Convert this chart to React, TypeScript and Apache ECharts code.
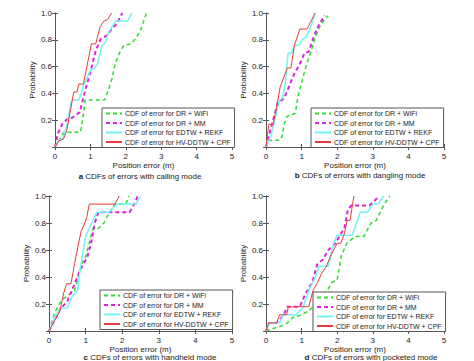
import React, { useEffect, useRef } from "react";
import * as echarts from "echarts";

const seriesNames = [
  "CDF of error for DR + WiFi",
  "CDF of error for DR + MM",
  "CDF of error for EDTW + REKF",
  "CDF of error for HV-DDTW + CPF",
];
const xTicks = [0, 1, 2, 3, 4, 5];
const yTicks = [0, 0.2, 0.4, 0.6, 0.8, 1.0];
const captions = [
  "CDFs of errors with calling mode",
  "CDFs of errors with dangling mode",
  "CDFs of errors with handheld mode",
  "CDFs of errors with pocketed mode",
];
const captionLetters = ["a", "b", "c", "d"];

// calling mode
const callingWifi = [[0,0],[0.25,0.11],[0.72,0.11],[0.78,0.2],[0.85,0.35],[1.4,0.35],[1.5,0.42],[1.6,0.5],[1.7,0.62],[1.85,0.72],[1.95,0.76],[2.15,0.77],[2.28,0.81],[2.4,0.86],[2.48,0.92],[2.58,1.0]];
const callingMM = [[0,0],[0.08,0.1],[0.2,0.17],[0.35,0.21],[0.5,0.22],[0.7,0.26],[0.85,0.42],[1.0,0.56],[1.15,0.72],[1.3,0.81],[1.45,0.83],[1.6,0.88],[1.75,0.92],[1.9,1.0]];
const callingEDTW = [[0,0],[0.1,0.05],[0.22,0.06],[0.35,0.18],[0.47,0.35],[0.68,0.35],[0.82,0.47],[1.0,0.57],[1.12,0.59],[1.2,0.62],[1.32,0.75],[1.42,0.78],[1.5,0.85],[1.62,0.9],[1.72,0.94],[2.05,0.94],[2.17,1.0]];
const callingHV = [[0,0],[0.1,0.045],[0.24,0.06],[0.33,0.12],[0.53,0.41],[0.62,0.41],[0.67,0.47],[0.8,0.47],[1.03,0.77],[1.15,0.77],[1.28,0.9],[1.38,0.94],[1.48,0.95],[1.6,1.0]];

// dangling mode
const danglingWifi = [[0,0],[0.06,0.05],[0.38,0.05],[0.45,0.08],[0.52,0.18],[0.6,0.23],[0.7,0.24],[0.82,0.25],[0.9,0.38],[1.0,0.48],[1.12,0.6],[1.25,0.7],[1.4,0.83],[1.55,0.92],[1.75,0.98]];
const danglingMM = [[0,0],[0.1,0.1],[0.2,0.2],[0.33,0.33],[0.5,0.36],[0.6,0.42],[0.8,0.55],[0.95,0.62],[1.08,0.7],[1.2,0.71],[1.35,0.83],[1.5,0.92],[1.66,0.98]];
const danglingEDTW = [[0,0],[0.1,0.06],[0.2,0.14],[0.3,0.27],[0.38,0.35],[0.47,0.37],[0.55,0.5],[0.62,0.7],[0.72,0.7],[0.8,0.76],[0.92,0.76],[1.02,0.8],[1.12,0.82],[1.22,0.87],[1.38,1.0]];
const danglingHV = [[0,0],[0.08,0.17],[0.2,0.17],[0.3,0.3],[0.4,0.45],[0.5,0.52],[0.6,0.59],[0.7,0.59],[0.8,0.76],[0.95,0.88],[1.15,0.88],[1.38,1.0]];

// handheld mode
const handheldWifi = [[0,0],[0.15,0.13],[0.28,0.2],[0.4,0.24],[0.55,0.27],[0.7,0.3],[0.8,0.4],[0.9,0.5],[1.0,0.55],[1.1,0.65],[1.2,0.76],[1.35,0.76],[1.5,0.8],[1.65,0.88],[1.8,0.94],[2.1,0.94],[2.18,1.0]];
const handheldMM = [[0,0],[0.15,0.08],[0.3,0.16],[0.4,0.19],[0.5,0.22],[0.7,0.35],[0.85,0.45],[0.95,0.5],[1.05,0.55],[1.15,0.65],[1.25,0.8],[1.35,0.88],[2.2,0.88],[2.35,0.95],[2.42,1.0]];
const handheldEDTW = [[0,0],[0.2,0.12],[0.3,0.17],[0.5,0.17],[0.62,0.25],[0.78,0.3],[0.85,0.45],[0.95,0.62],[1.0,0.7],[1.1,0.76],[1.2,0.82],[1.3,0.88],[1.65,0.88],[1.85,0.94],[2.38,0.94],[2.5,1.0]];
const handheldHV = [[0,0],[0.2,0.1],[0.3,0.15],[0.4,0.28],[0.48,0.35],[0.6,0.35],[0.7,0.5],[0.8,0.64],[0.88,0.74],[0.98,0.8],[1.03,0.84],[1.1,0.94],[1.8,0.94],[1.92,1.0]];

// pocketed mode
const pocketedWifi = [[0,0],[0.45,0.04],[0.6,0.06],[0.75,0.1],[1.0,0.12],[1.2,0.15],[1.5,0.22],[1.72,0.3],[1.85,0.36],[2.0,0.38],[2.12,0.56],[2.27,0.65],[2.5,0.7],[2.75,0.7],[2.95,0.8],[3.1,0.82],[3.3,0.93],[3.48,1.0]];
const pocketedMM = [[0,0],[0.1,0.06],[0.3,0.06],[0.5,0.12],[0.6,0.18],[0.95,0.18],[1.1,0.27],[1.3,0.36],[1.45,0.5],[1.6,0.53],[1.75,0.6],[1.95,0.65],[2.1,0.72],[2.2,0.76],[2.3,0.9],[2.4,0.93],[2.9,0.93],[3.0,0.95],[3.18,1.0]];
const pocketedEDTW = [[0,0],[0.1,0.06],[0.38,0.06],[0.48,0.12],[0.85,0.12],[1.05,0.18],[1.2,0.3],[1.35,0.38],[1.5,0.48],[1.75,0.48],[1.9,0.65],[2.0,0.71],[2.42,0.71],[2.65,0.88],[2.85,0.88],[3.0,0.94],[3.15,0.94],[3.3,1.0]];
const pocketedHV = [[0,0],[0.07,0.06],[0.3,0.06],[0.38,0.12],[0.58,0.12],[0.63,0.18],[1.2,0.18],[1.32,0.3],[1.45,0.36],[1.55,0.42],[1.7,0.48],[1.8,0.55],[1.9,0.6],[2.0,0.65],[2.1,0.65],[2.2,0.72],[2.28,0.82],[2.36,0.82],[2.47,1.0]];

const panels = [
  [callingWifi, callingMM, callingEDTW, callingHV],
  [danglingWifi, danglingMM, danglingEDTW, danglingHV],
  [handheldWifi, handheldMM, handheldEDTW, handheldHV],
  [pocketedWifi, pocketedMM, pocketedEDTW, pocketedHV],
];

const FONT = "Liberation Sans, Arial, sans-serif";

export default function App() {
  const ref = useRef<HTMLDivElement>(null);
  useEffect(() => {
    if (!ref.current) return;
    const chart = echarts.init(ref.current, undefined, { renderer: "svg" });

    const grids = [
      { left: 55, top: 13, width: 177, height: 134 },
      { left: 266, top: 13, width: 178, height: 134 },
      { left: 49, top: 196, width: 183, height: 135 },
      { left: 266, top: 196, width: 178, height: 135 },
    ];
    const yNameGaps = [18, 17, 13, 17];
    const legendPos = [
      { left: 102, top: 108 },
      { left: 311, top: 108 },
      { left: 100, top: 290 },
      { left: 313, top: 292 },
    ];
    const captionPos = [
      { x: 140, y: 176 },
      { x: 360, y: 175 },
      { x: 150, y: 357 },
      { x: 371, y: 357 },
    ];
    const styles = [
      { color: "#2ede2e", width: 1.5, type: [4, 3] },
      { color: "#e020e0", width: 2, type: [4, 3] },
      { color: "#6ef4f4", width: 1.5, type: "solid" },
      { color: "#e83a3a", width: 1, type: "solid" },
    ];

    const axisLine = { show: true, lineStyle: { color: "#555", width: 1 } };
    const xAxes: any[] = [];
    const yAxes: any[] = [];
    const series: any[] = [];
    grids.forEach((_, i) => {
      xAxes.push({
        type: "value",
        gridIndex: i,
        min: xTicks[0],
        max: xTicks[xTicks.length - 1],
        interval: 1,
        position: "bottom",
        axisLine,
        axisTick: { show: true, inside: true, length: 3, lineStyle: { color: "#555" } },
        splitLine: { show: false },
        axisLabel: { fontSize: 8, color: "#222", fontFamily: FONT, margin: 5 },
        name: "Position error (m)",
        nameLocation: "middle",
        nameGap: 14,
        nameTextStyle: { fontSize: 8, color: "#222", fontFamily: FONT },
      });
      xAxes.push({
        type: "value",
        gridIndex: i,
        min: xTicks[0],
        max: xTicks[xTicks.length - 1],
        interval: 1,
        position: "top",
        axisLine,
        axisTick: { show: true, inside: true, length: 3, lineStyle: { color: "#555" } },
        splitLine: { show: false },
        axisLabel: { show: false },
      });
      yAxes.push({
        type: "value",
        gridIndex: i,
        min: yTicks[0],
        max: yTicks[yTicks.length - 1],
        interval: 0.2,
        position: "left",
        axisLine,
        axisTick: { show: true, inside: true, length: 3, lineStyle: { color: "#555" } },
        splitLine: { show: false },
        axisLabel: {
          fontSize: 8,
          color: "#222",
          fontFamily: FONT,
          margin: 3,
          formatter: (v: number) => (v === 0 ? "" : v.toFixed(1)),
        },
        name: "Probability",
        nameLocation: "middle",
        nameGap: yNameGaps[i],
        nameTextStyle: { fontSize: 8, color: "#222", fontFamily: FONT },
      });
      yAxes.push({
        type: "value",
        gridIndex: i,
        min: yTicks[0],
        max: yTicks[yTicks.length - 1],
        interval: 0.2,
        position: "right",
        axisLine,
        axisTick: { show: true, inside: true, length: 3, lineStyle: { color: "#555" } },
        splitLine: { show: false },
        axisLabel: { show: false },
      });
      panels[i].forEach((data, k) => {
        series.push({
          type: "line",
          name: seriesNames[k],
          xAxisIndex: 2 * i,
          yAxisIndex: 2 * i,
          data,
          symbol: "none",
          lineStyle: styles[k],
          itemStyle: { color: styles[k].color },
          z: 2 + k,
        });
      });
    });

    const legends = legendPos.map((p) => ({
      left: p.left,
      top: p.top,
      orient: "vertical",
      data: seriesNames,
      backgroundColor: "#fff",
      borderColor: "#555",
      borderWidth: 1,
      borderRadius: 0,
      padding: [2, 4, 2, 3],
      itemGap: 2.5,
      itemWidth: 16,
      itemHeight: 7,
      selectedMode: false,
      itemStyle: { opacity: 0 },
      textStyle: { fontSize: 7, color: "#222", fontFamily: FONT, padding: [0, 0, 0, -2] },
      z: 10,
    }));

    const graphics = captionPos.map((p, i) => ({
      type: "text",
      x: p.x,
      y: p.y,
      style: {
        text: `{b|${captionLetters[i]}} ${captions[i]}`,
        fontSize: 8,
        fontFamily: FONT,
        fill: "#222",
        align: "center",
        verticalAlign: "middle",
        rich: {
          b: { fontWeight: "bold", fontSize: 8, fontFamily: FONT, fill: "#222" },
        },
      },
    }));

    chart.setOption({
      animation: false,
      backgroundColor: "#fff",
      grid: grids,
      xAxis: xAxes,
      yAxis: yAxes,
      series,
      legend: legends,
      graphic: graphics,
    });
    return () => chart.dispose();
  }, []);
  return (
    <div
      ref={ref}
      style={{ position: "fixed", left: 0, top: 0, width: 474, height: 361, background: "#fff" }}
    />
  );
}
